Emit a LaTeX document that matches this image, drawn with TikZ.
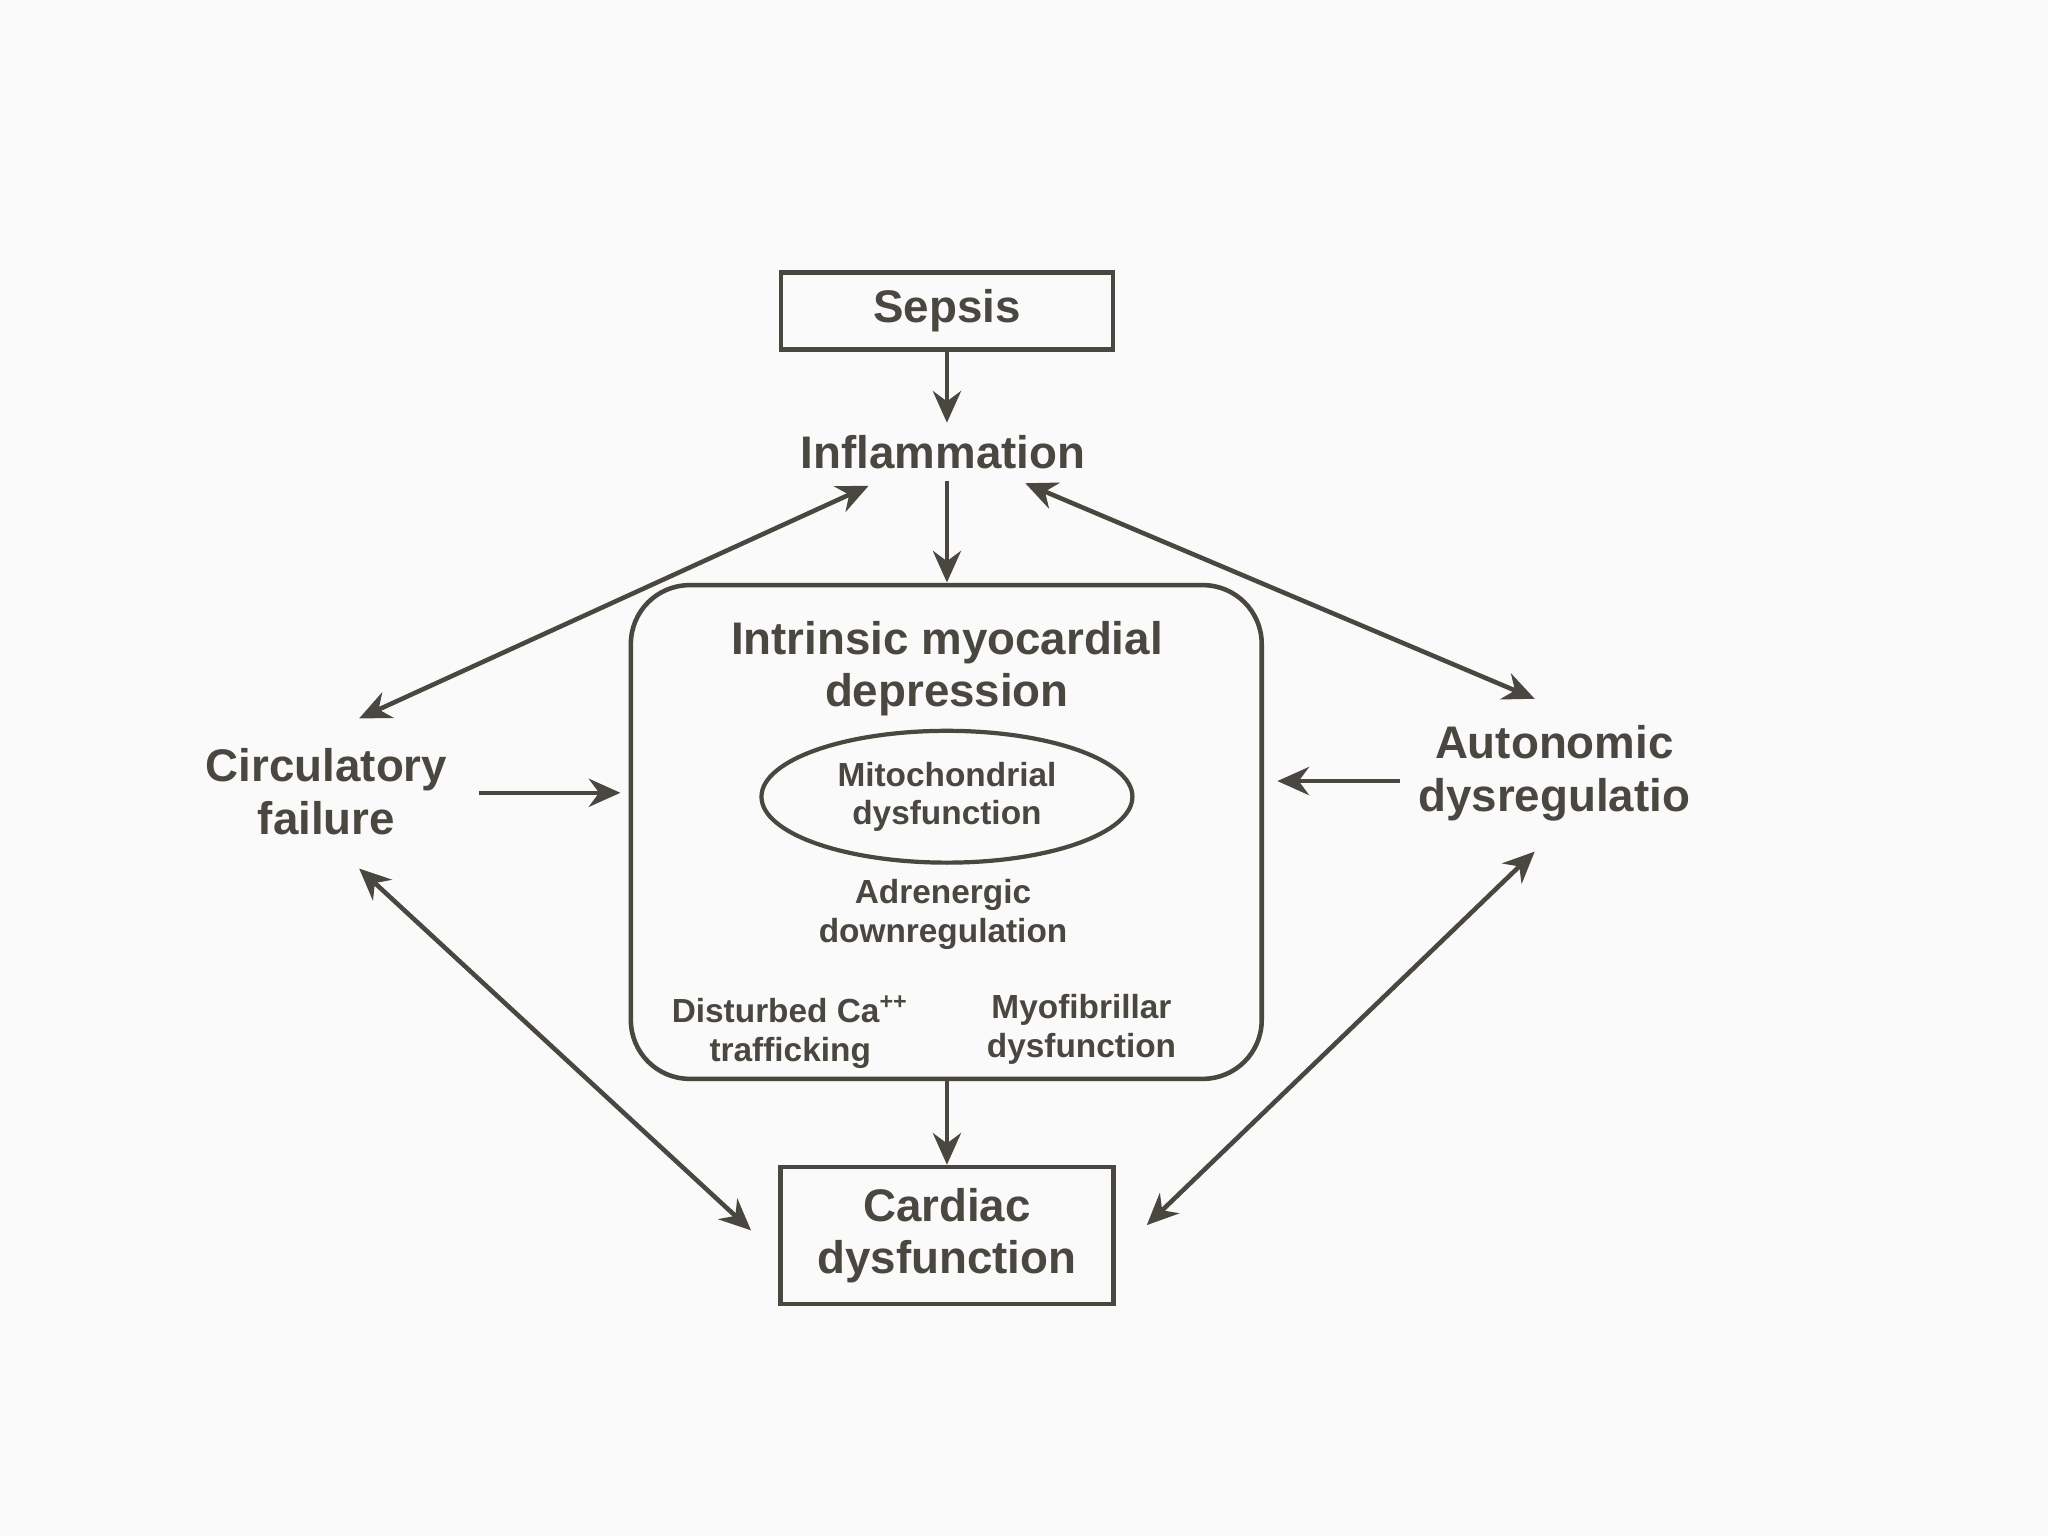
\documentclass[tikz,border=0pt]{standalone}
\usepackage{fontspec}
\setmainfont{Liberation Sans}
\usetikzlibrary{shapes.geometric,arrows.meta}
\definecolor{ink}{HTML}{4A4640}
\tikzset{
	lbl/.style={text=ink,font=\bfseries\fontsize{13}{15}\selectfont,align=center},
	small/.style={text=ink,font=\bfseries\fontsize{9.5}{11}\selectfont,align=center},
	box/.style={draw=ink,line width=1.3pt,lbl},
	arr/.style={draw=ink,line width=1.3pt,-{Stealth[length=9pt,width=8pt]}},
	darr/.style={draw=ink,line width=1.3pt,{Stealth[length=9pt,width=8pt]}-{Stealth[length=9pt,width=8pt]}}
}
\begin{document}
\begin{tikzpicture}[x=0.01306cm,y=-0.01306cm]
\fill[white!96!gray] (0,0) rectangle (1568,1176);
\useasboundingbox (0,0) rectangle (1568,1176);

%top and bottom boxes
\node[box,minimum width=254*0.01306cm,minimum height=59*0.01306cm] (sepsis) at (725,238) {Sepsis};
\node[lbl] (infl) at (722,346) {Inflammation};
\node[box,minimum width=255*0.01306cm,minimum height=105*0.01306cm] (cardiac) at (725,946) {Cardiac\\dysfunction};

% intrinsic depression
\draw[ink,line width=1.3pt,rounded corners=45*0.01306cm] (483,448) rectangle (966,826);
\coordinate (boxtop) at (725,446);
\coordinate (boxbot) at (725,828);
\coordinate (boxleft) at (475,607);
\coordinate (boxright) at (978,598);
\node[lbl] (intr) at (725,512) {Intrinsic myocardial\\depression};
\node[ellipse,draw=ink,line width=1.2pt,minimum width=284*0.01306cm,minimum height=86*0.01306cm,small] (mito) at (725,610) {Mitochondrial\\dysfunction};
\node[small] (adren) at (722,700) {Adrenergic\\downregulation};
\node[small] (calc) at (605,790) {Disturbed Ca\textsuperscript{++}\\trafficking};
\node[small] (myo) at (828,788) {Myofibrillar\\dysfunction};

% side labels
\node[lbl] (circ) at (250,606) {Circulatory\\failure};
\node[lbl] (auto) at (1190,592) {Autonomic\\dysregulatio};

% arrows
\draw[arr] (sepsis.south -| boxtop) -- (infl.north -| boxtop);
\draw[arr] (infl.south -| boxtop) -- (boxtop);
\draw[arr] (boxbot) -- (cardiac);
\coordinate (c1) at (275,550);
\coordinate (c2) at (275,665);
\coordinate (a1) at (1175,535);
\coordinate (a2) at (1175,652);
\coordinate (i1) at (665,372);
\coordinate (i2) at (785,370);
\coordinate (k1) at (575,942);
\coordinate (k2) at (878,938);
\draw[darr] (i1) -- (c1);
\draw[darr] (i2) -- (a1);
\draw[darr] (c2) -- (k1);
\draw[darr] (a2) -- (k2);
\draw[arr] (circ.east |- boxleft) ++(15,0) -- (boxleft);
\draw[arr] (auto.west |- boxright) ++(-5,0) -- (boxright);
\end{tikzpicture}
\end{document}
